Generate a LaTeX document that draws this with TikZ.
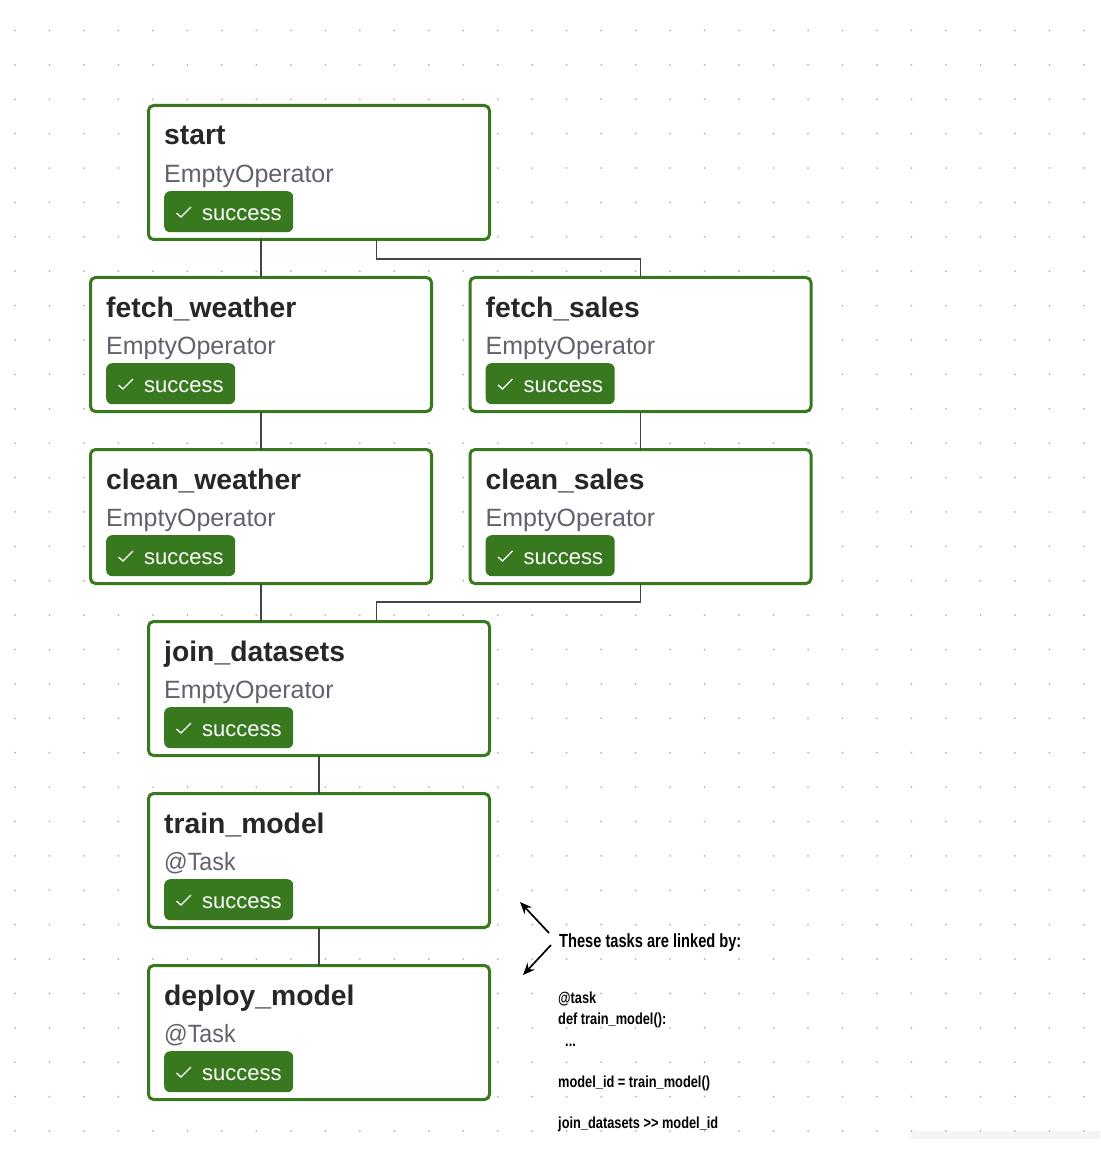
\documentclass[tikz,border=0pt]{standalone}
\usepackage{fontspec}
\usepackage{graphicx}
\setmainfont{Liberation Sans}
\usetikzlibrary{arrows.meta}
\definecolor{okgreen}{HTML}{38781F}
\definecolor{titleink}{HTML}{27272A}
\definecolor{typeink}{HTML}{62626E}
\definecolor{linkink}{HTML}{444444}
\definecolor{dotgrey}{HTML}{B4B4B4}
\tikzset{
  taskbox/.style={draw=okgreen,line width=3pt,rounded corners=5pt,fill=white,anchor=north west,minimum width=341pt,minimum height=134pt,inner sep=0pt,outer sep=0pt},
  tasktitle/.style={anchor=base west,inner sep=0pt,text=titleink,font=\fontsize{28.3}{30}\selectfont\bfseries},
  tasktype/.style={anchor=base west,inner sep=0pt,text=typeink,font=\fontsize{25}{26}\selectfont},
  badge/.style={fill=okgreen,rounded corners=6pt,anchor=north west,minimum width=129pt,minimum height=41pt,inner sep=0pt},
  badgetext/.style={anchor=base west,inner sep=0pt,text=white,font=\fontsize{22}{24}\selectfont},
  tick/.style={draw=white,line width=1.3pt},
  link/.style={draw=linkink,line width=1.8pt},
  note/.style={anchor=base west,inner sep=0pt,text=black},
  notehead/.style={note,font=\fontsize{19}{22}\selectfont\bfseries},
  notecode/.style={note,font=\fontsize{16}{18}\selectfont\bfseries},
  callout/.style={draw=black,line width=1.7pt,-{Stealth[length=12pt,width=10pt]}},
}
\newcommand{\taskcard}[6]{%
  \node[taskbox] (#1) at (#2+0.5,#3+0.5) {};
  \node[tasktitle] (#1title) at (#2+16,#3+40) {#4};
  \node[tasktype] (#1type) at (#2+16,#3+77.5) {#5};
  \node[badge] (#1badge) at (#2+16,#3+86) {};
  \draw[tick] (#2+28.5,#3+108) -- (#2+33,#3+112) -- (#2+43,#3+102);
  \node[badgetext] (#1state) at (#2+54,#3+115.5) {#6};
}
\begin{document}
\begin{tikzpicture}[x=1pt,y=-1pt]
\useasboundingbox (0,0) rectangle (1100,1155);
\fill[white] (0,0) rectangle (1100,1155);
\fill[black!4] (910,1131) rectangle (1100,1139);
\foreach \i in {0,...,31}{\foreach \j in {0,...,32}{
  \fill[dotgrey] ({15+34.48*\i},{30.5+34.39*\j}) circle (1pt);
}}
\taskcard{start}{148}{105}{start}{EmptyOperator}{success}
\taskcard{fw}{90}{277}{fetch\_weather}{EmptyOperator}{success}
\taskcard{fs}{469.5}{277}{fetch\_sales}{EmptyOperator}{success}
\taskcard{cw}{90}{449}{clean\_weather}{EmptyOperator}{success}
\taskcard{cs}{469.5}{449}{clean\_sales}{EmptyOperator}{success}
\taskcard{join}{148}{621}{join\_datasets}{EmptyOperator}{success}
\taskcard{train}{148}{793}{train\_model}{\scalebox{0.93}[1]{@Task}}{success}
\taskcard{deploy}{148}{965}{deploy\_model}{\scalebox{0.93}[1]{@Task}}{success}
\coordinate (startout) at (376.5,240);
\coordinate (startbend) at (376.5,259);
\coordinate (joinin) at (376.5,621);
\coordinate (joinbend) at (376.5,602);
\coordinate (upfrom) at (549,933);
\coordinate (upto) at (520,902);
\coordinate (downfrom) at (551,945);
\coordinate (downto) at (523,975);
\draw[link] (start.south -| fw.north) -- (fw.north);
\draw[link] (startout) -- (startbend) -| (fs.north);
\draw[link] (fw.south) -- (cw.north);
\draw[link] (fs.south) -- (cs.north);
\draw[link] (cw.south) -- (cw.south |- join.north);
\draw[link] (joinin) -- (joinbend) -| (cs.south);
\draw[link] (join.south) -- (train.north);
\draw[link] (train.south) -- (deploy.north);
\draw[callout] (upfrom) -- (upto);
\draw[callout] (downfrom) -- (downto);
\node[notehead] (n1) at (559,947) {\scalebox{0.77}[1]{These tasks are linked by:}};
\node[notecode] (n2) at (558,1003) {\scalebox{0.8}[1]{@task}};
\node[notecode] (n3) at (558,1024) {\scalebox{0.8}[1]{def train\_model():}};
\node[notecode] (n4) at (565,1046) {\scalebox{0.8}[1]{...}};
\node[notecode] (n5) at (558,1087) {\scalebox{0.8}[1]{model\_id = train\_model()}};
\node[notecode] (n6) at (558,1128) {\scalebox{0.8}[1]{join\_datasets >{}> model\_id}};
\end{tikzpicture}
\end{document}
